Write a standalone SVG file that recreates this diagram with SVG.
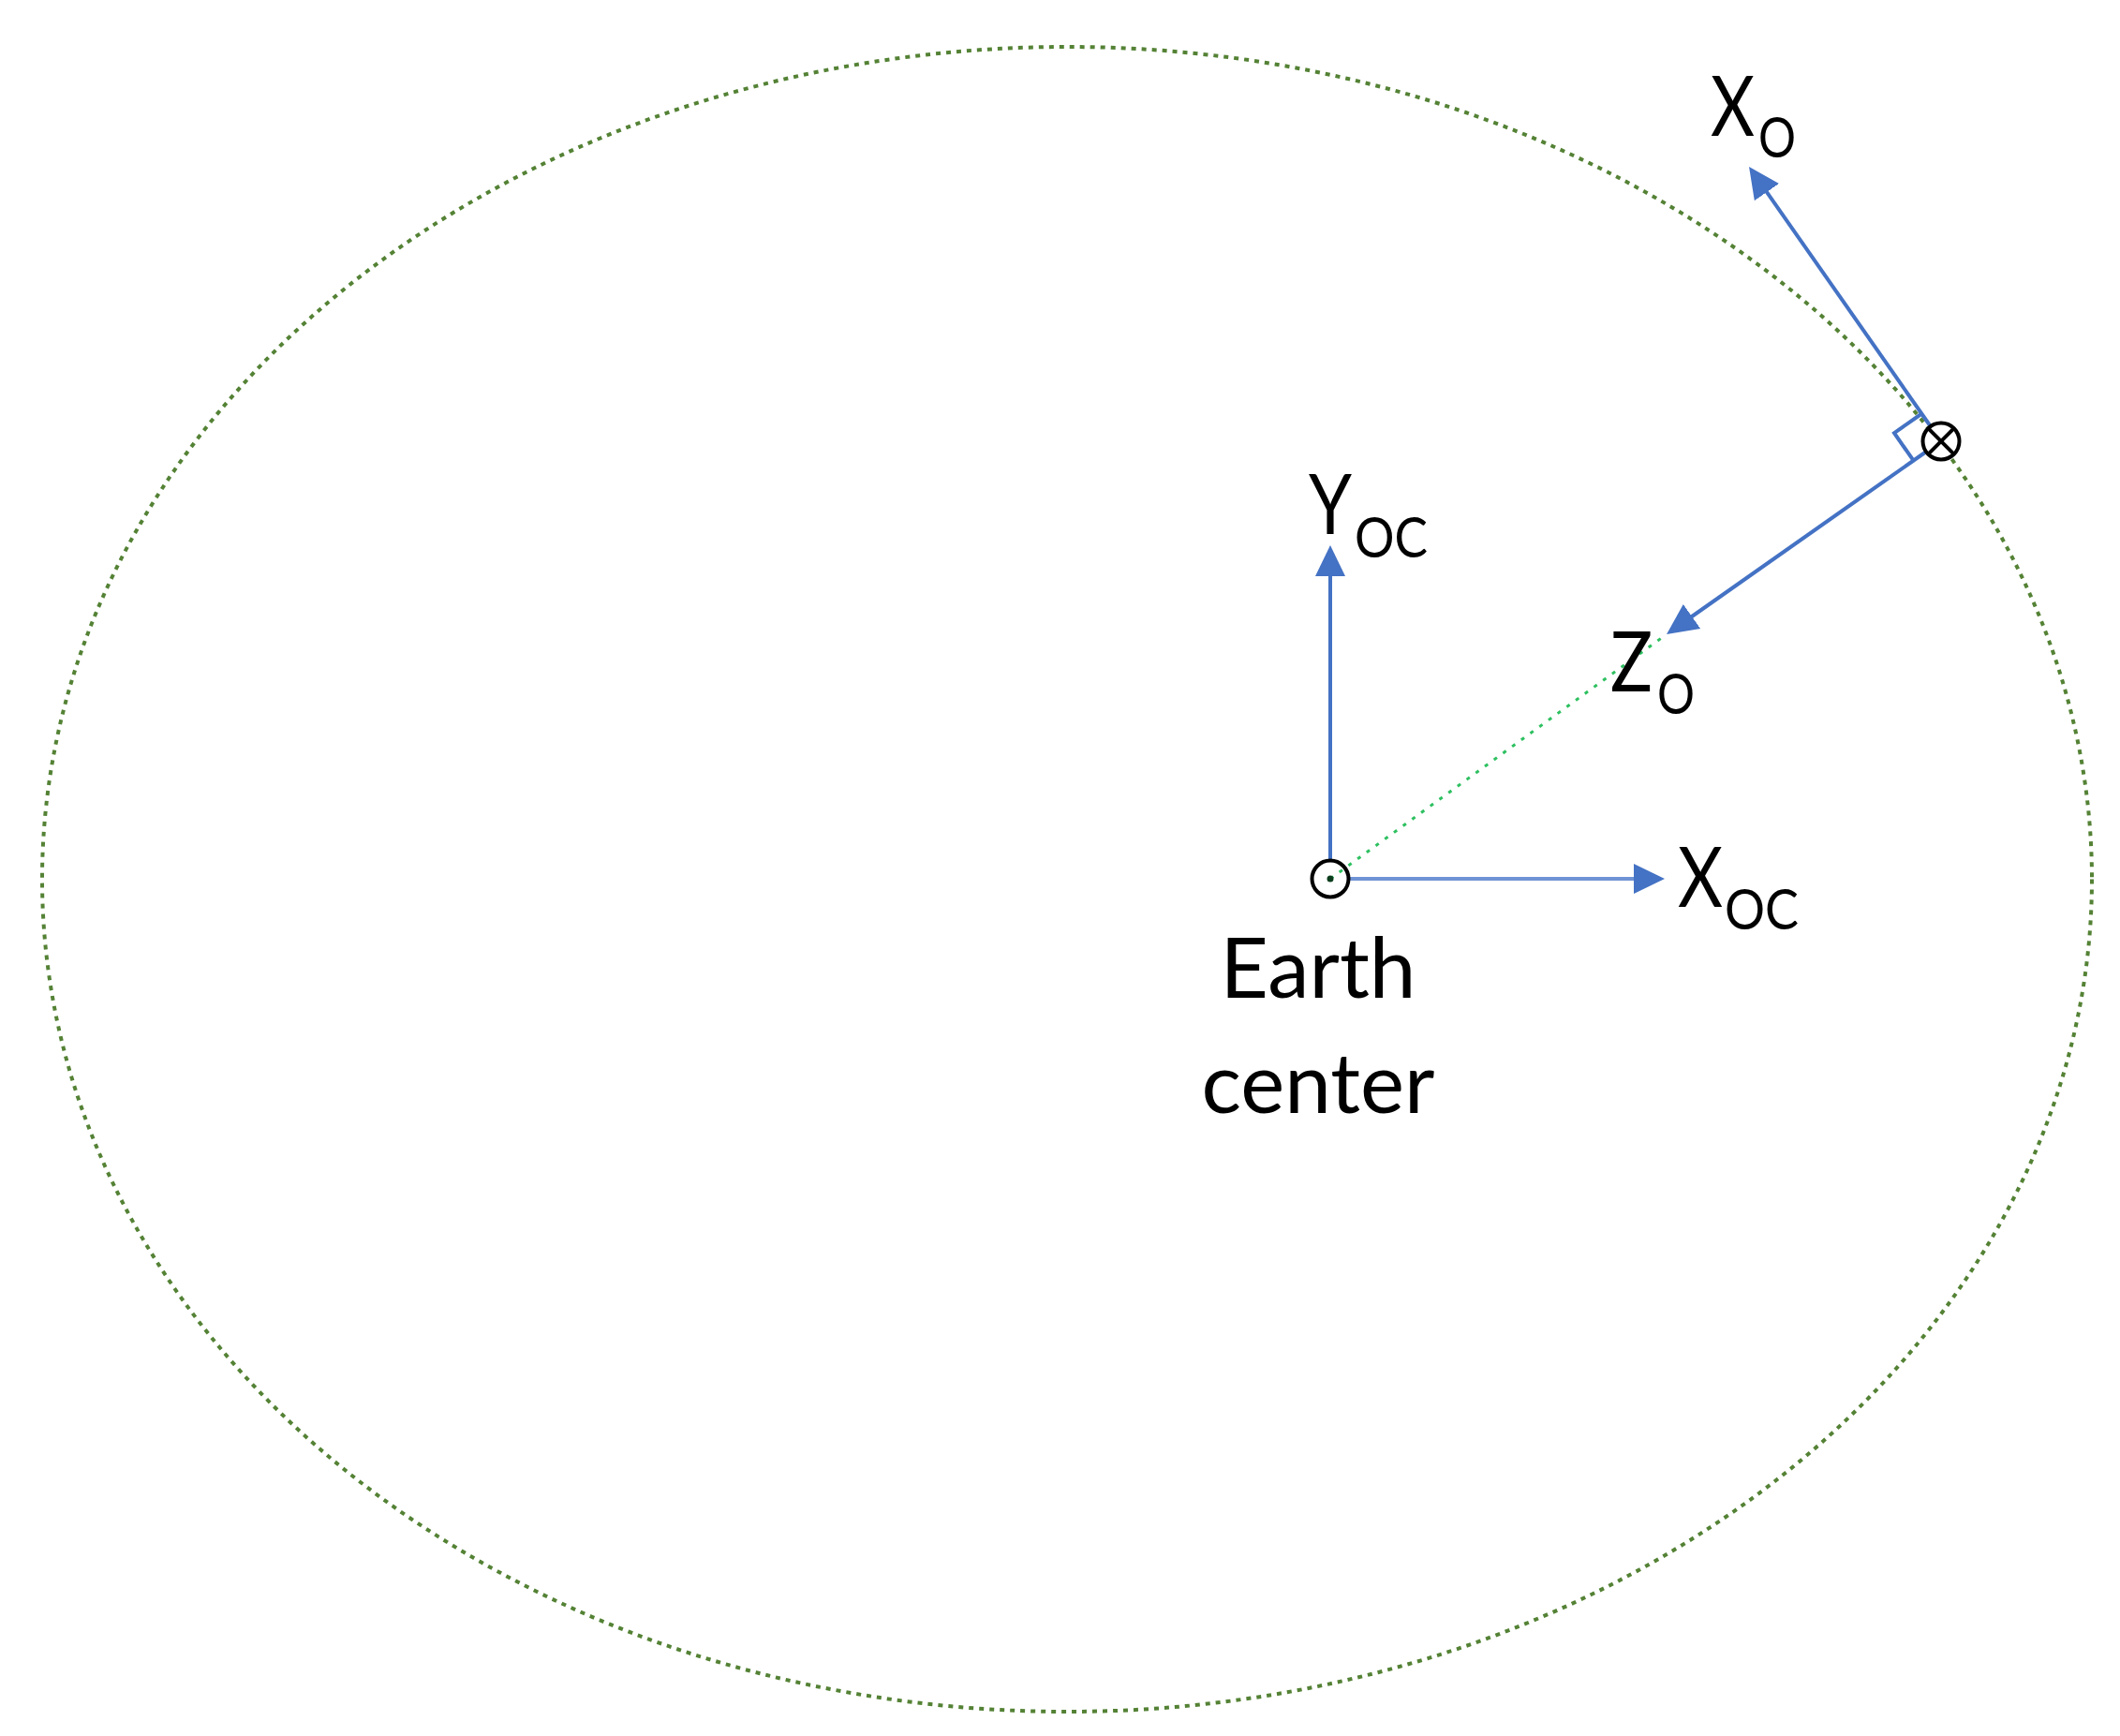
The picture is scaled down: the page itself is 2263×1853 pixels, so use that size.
<svg xmlns="http://www.w3.org/2000/svg" width="2263" height="1853" viewBox="0 0 2263 1853">
  <style>
    .lbl { font-family: Lato, "Open Sans", "Liberation Sans", sans-serif; fill: #000; }
    .main { font-size: 89px; }
    .sub { font-size: 60px; }
    .axis { stroke: #4472C4; stroke-width: 4; fill: none; }
    .orbit { fill: none; stroke: #548235; stroke-width: 4; stroke-dasharray: 5 6; }
    .radial { stroke: #2EC060; stroke-width: 3; stroke-dasharray: 4 8; fill: none; }
    .sym { stroke: #000; stroke-width: 4; }
  </style>
  <defs>
    <marker id="arrow" markerUnits="userSpaceOnUse" markerWidth="34" markerHeight="34" viewBox="0 0 34 34" refX="13" refY="17" orient="auto">
      <path d="M0,1 L33,17 L0,33 z" fill="#4472C4"/>
    </marker>
  </defs>
  <rect width="2263" height="1853" fill="#fff"/>

  <g id="orbit">
    <ellipse class="orbit" cx="1139" cy="938.5" rx="1094" ry="888.5"/>
  </g>

  <g id="connectors">
    <line id="y-oc" class="axis" x1="1420" y1="917" x2="1420" y2="602" marker-end="url(#arrow)"/>
    <line id="x-oc" class="axis" x1="1441" y1="938" x2="1757" y2="938" stroke-width="5.5" style="stroke:#6F93D4" marker-end="url(#arrow)"/>
    <line id="x-o" class="axis" x1="2060" y1="454" x2="1878.5" y2="194.4" marker-end="url(#arrow)"/>
    <line id="z-o" class="axis" x1="2054.8" y1="483" x2="1795.4" y2="665.5" marker-end="url(#arrow)"/>
    <path id="right-angle" class="axis" stroke-width="3" d="M2051.4,441.5 L2022,462.2 L2042.6,491.7"/>
    <line id="radial" class="radial" x1="1420" y1="938" x2="1779" y2="677"/>
  </g>

  <g id="earth-center">
    <circle class="sym" cx="1420" cy="938" r="19.5" fill="none"/>
    <circle cx="1420" cy="938" r="3.5" fill="#0B3D1C"/>
    <text class="lbl main" x="1407" y="1065" text-anchor="middle">Earth</text>
    <text class="lbl main" x="1407" y="1188" text-anchor="middle">center</text>
  </g>

  <g id="satellite">
    <circle class="sym" cx="2072" cy="471" r="19.5" fill="#fff"/>
    <line class="sym" x1="2058.2" y1="457.2" x2="2085.8" y2="484.8"/>
    <line class="sym" x1="2085.8" y1="457.2" x2="2058.2" y2="484.8"/>
  </g>

  <g id="label-yoc">
    <text class="lbl main" x="1397" y="570" textLength="46" lengthAdjust="spacingAndGlyphs">Y</text>
    <text class="lbl sub" x="1446" y="595" textLength="78" lengthAdjust="spacingAndGlyphs">OC</text>
  </g>
  <g id="label-xoc">
    <text class="lbl main" x="1791" y="968" textLength="48" lengthAdjust="spacingAndGlyphs">X</text>
    <text class="lbl sub" x="1841" y="992" textLength="79" lengthAdjust="spacingAndGlyphs">OC</text>
  </g>
  <g id="label-zo">
    <text class="lbl main" x="1719" y="738" textLength="45" lengthAdjust="spacingAndGlyphs">Z</text>
    <text class="lbl sub" x="1769" y="762" textLength="40" lengthAdjust="spacingAndGlyphs">O</text>
  </g>
  <g id="label-xo">
    <text class="lbl main" x="1826" y="145" textLength="47" lengthAdjust="spacingAndGlyphs">X</text>
    <text class="lbl sub" x="1877" y="168" textLength="40" lengthAdjust="spacingAndGlyphs">O</text>
  </g>
</svg>
